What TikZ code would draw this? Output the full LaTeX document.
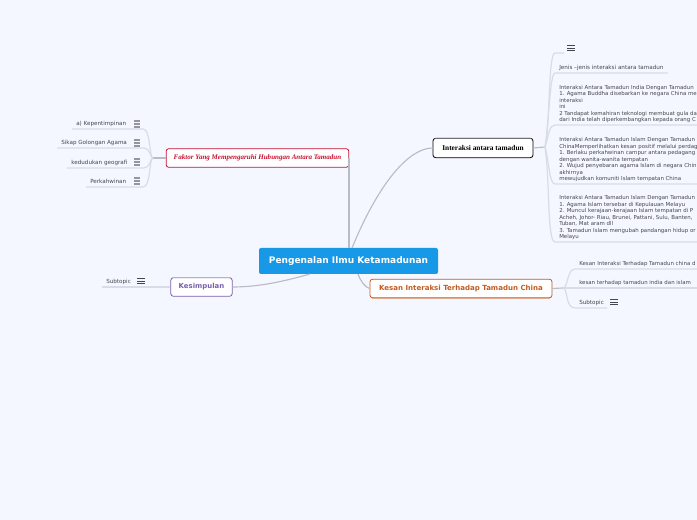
\documentclass[tikz,border=0pt]{standalone}
\usepackage{fontspec}
\setmainfont{DejaVu Sans}
\newfontfamily\serifhead{Liberation Serif}
\usetikzlibrary{positioning}
\definecolor{pagebg}{RGB}{244,247,255}
\definecolor{rootblue}{RGB}{24,153,232}
\definecolor{faktorred}{RGB}{200,16,46}
\definecolor{kesanorange}{RGB}{197,90,30}
\definecolor{kesanlight}{RGB}{226,170,140}
\definecolor{simpulpurple}{RGB}{122,95,176}
\definecolor{simpullight}{RGB}{186,172,220}
\definecolor{stemgray}{RGB}{186,188,194}
\definecolor{leafgray}{RGB}{216,220,232}
\definecolor{leaftext}{RGB}{70,70,78}
\tikzset{
	x=0.75pt, y=-0.75pt,
	root/.style={fill=rootblue, rounded corners=1.5pt, minimum width=134.25pt, minimum height=19.5pt, inner sep=0pt, text=white, font=\fontsize{6.77}{8}\selectfont\bfseries},
	branch/.style={draw, fill=white, rounded corners=2pt, line width=0.6pt, inner sep=0pt, minimum height=14pt},
	leaf/.style={anchor=south west, inner xsep=3pt, inner ysep=1.2pt, text depth=1pt, align=left, text=leaftext, font=\fontsize{4.22}{4.9}\selectfont},
	longleaf/.style={leaf, font=\fontsize{4.08}{4.9}\selectfont},
	stem/.style={draw=stemgray, line width=0.85pt},
	twig/.style={draw=leafgray, line width=0.9pt},
	menuicon/.pic={
		\draw[leaftext, line width=0.5pt] (-4,-2.5) -- (4,-2.5) (-4,0) -- (4,0) (-4,2.5) -- (4,2.5);
	},
	menugray/.pic={
		\draw[stemgray!80!black, line width=1pt] (-3,-3) -- (3,-3) (-3,0) -- (3,0) (-3,3) -- (3,3);
	},
}
\begin{document}
\begin{tikzpicture}
	\useasboundingbox[fill=pagebg] (0,0) rectangle (697,520);
	\clip (0,0) rectangle (697,520);

	% main topics
	\node[root] (centre) at (348.5,261) {Pengenalan Ilmu Ketamadunan};
	\node[branch, draw=faktorred, minimum width=137pt, text=faktorred, font=\fontsize{5.27}{7}\serifhead\bfseries\itshape] (faktor) at (257.5,158) {Faktor Yang Mempengaruhi Hubungan Antara Tamadun};
	\node[branch, draw=black, minimum width=75pt, minimum height=14.5pt, text=black, font=\fontsize{5.52}{8}\serifhead\bfseries] (interaksi) at (483,148) {Interaksi antara tamadun};
	\node[branch, draw=kesanorange, minimum width=136.5pt, text=kesanorange, font=\fontsize{5.27}{7}\selectfont\bfseries] (kesan) at (461,288.5) {Kesan Interaksi Terhadap Tamadun China};
	\node[branch, draw=simpulpurple, minimum width=46pt, text=simpulpurple, font=\fontsize{5.2}{7}\selectfont\bfseries] (simpul) at (201.5,287) {Kesimpulan};

	% edge shades on the boxes
	\draw[stemgray!60!black, line width=0.9pt] ([xshift=2pt,yshift=-0.2pt]interaksi.north west) -- ([xshift=-2pt,yshift=-0.2pt]interaksi.north east);
	\draw[kesanlight, line width=0.9pt] ([xshift=2pt]kesan.south west) -- ([xshift=-2pt]kesan.south east);
	\draw[simpullight, line width=0.9pt] ([xshift=2pt]simpul.north west) -- ([xshift=-2pt]simpul.north east);

	% leaves on the right, top
	\coordinate (rj) at (545,147);
	\coordinate (blank) at (555,53);
	\coordinate (blankend) at (564,53);
	\node[leaf] (jenis) at (555,73) {Jenis –jenis interaksi antara tamadun};
	\node[longleaf] (india) at (555,125) {Interaksi Antara Tamadun India Dengan Tamadun\\1. Agama Buddha disebarkan ke negara China me\\interaksi\\ini\\2 Tandapat kemahiran teknologi membuat gula da\\dari India telah diperkembangkan kepada orang C};
	\node[longleaf] (islam) at (555,184) {Interaksi Antara Tamadun Islam Dengan Tamadun\\ChinaMemperlihatkan kesan positif melalui perdag\\1. Berlaku perkahwinan campur antara pedagang\\dengan wanita-wanita tempatan\\2. Wujud penyebaran agama Islam di negara Chin\\akhirnya\\mewujudkan komuniti Islam tempatan China};
	\node[longleaf] (melayu) at (555,242) {Interaksi Antara Tamadun Islam Dengan Tamadun\\1. Agama Islam tersebar di Kepulauan Melayu\\2. Muncul kerajaan-kerajaan Islam tempatan di P\\Acheh, Johor- Riau, Brunei, Pattani, Sulu, Banten,\\Tuban, Mat aram dll\\3. Tamadun Islam mengubah pandangan hidup or\\Melayu};
	\pic at (571,48) {menuicon};

	% leaves on the left
	\coordinate (lj) at (143,0);
	\coordinate (lm) at (153,158);
	\node[leaf] (pimpin) at (72,129) {a) Kepentimpinan};
	\node[leaf] (sikap) at (57,148) {Sikap Golongan Agama};
	\node[leaf] (geografi) at (67,168) {kedudukan geografi};
	\node[leaf] (kahwin) at (86,187) {Perkahwinan};
	\pic at (137,124) {menugray};
	\pic at (137,143) {menugray};
	\pic at (137,162) {menugray};
	\pic at (137,181) {menugray};

	% leaves on the right, bottom
	\coordinate (kj) at (563,288);
	\node[longleaf] (china) at (575,269) {Kesan Interaksi Terhadap Tamadun china d};
	\node[longleaf] (india2) at (575,288) {kesan terhadap tamadun india dan islam};
	\node[leaf] (sub1) at (575,308) {Subtopic};
	\pic at (614,302) {menuicon};

	% leaf of Kesimpulan
	\node[leaf] (sub2) at (102,287) {Subtopic};
	\pic at (141,281) {menuicon};

	% main connectors
	\draw[stem, line width=1.5pt] (faktor.east) -- (faktor.east |- centre.north);
	\draw[stem] (352,248) .. controls (380,180) and (410,148) .. (interaksi.west);
	\draw[stem] (358,274) .. controls (361,282) and (365,287) .. (kesan.west);
	\draw[stem] (310,274) .. controls (285,281) and (260,287) .. (simpul.east);

	% right top twigs
	\draw[stem] (interaksi.east) -- (rj);
	\draw[twig] (rj) .. controls (550,130) and (548,53) .. (blank) -- (blankend);
	\draw[twig] (rj) .. controls (549,120) and (550,73) .. (jenis.south west) -- (jenis.south east);
	\draw[twig] (rj) .. controls (549,135) and (549,125) .. (india.south west) -- (697,125);
	\draw[twig] (rj) .. controls (549,160) and (549,184) .. (islam.south west) -- (697,184);
	\draw[twig] (rj) .. controls (550,180) and (547,242) .. (melayu.south west) -- (697,242);

	% left twigs
	\draw[stem] (faktor.west) -- (lm);
	\draw[twig] (lm) .. controls (149,158) and (151,129) .. (pimpin.south -| lj) -- (pimpin.south west);
	\draw[twig] (lm) .. controls (150,158) and (151,148) .. (sikap.south -| lj) -- (sikap.south west);
	\draw[twig] (lm) .. controls (150,158) and (151,168) .. (geografi.south -| lj) -- (geografi.south west);
	\draw[twig] (lm) .. controls (149,158) and (151,187) .. (kahwin.south -| lj) -- (kahwin.south west);

	% right bottom twigs
	\draw[stem] (kesan.east) -- (kj);
	\draw[twig] (kj) .. controls (568,288) and (567,269) .. (china.south west) -- (697,269);
	\draw[twig] (kj) -- (india2.south west) -- (697,288);
	\draw[twig] (kj) .. controls (568,288) and (565,308) .. (sub1.south west) -- (607,308);

	% left twig of Kesimpulan
	\draw[twig] (simpul.west) -- (sub2.south west);
\end{tikzpicture}
\end{document}
